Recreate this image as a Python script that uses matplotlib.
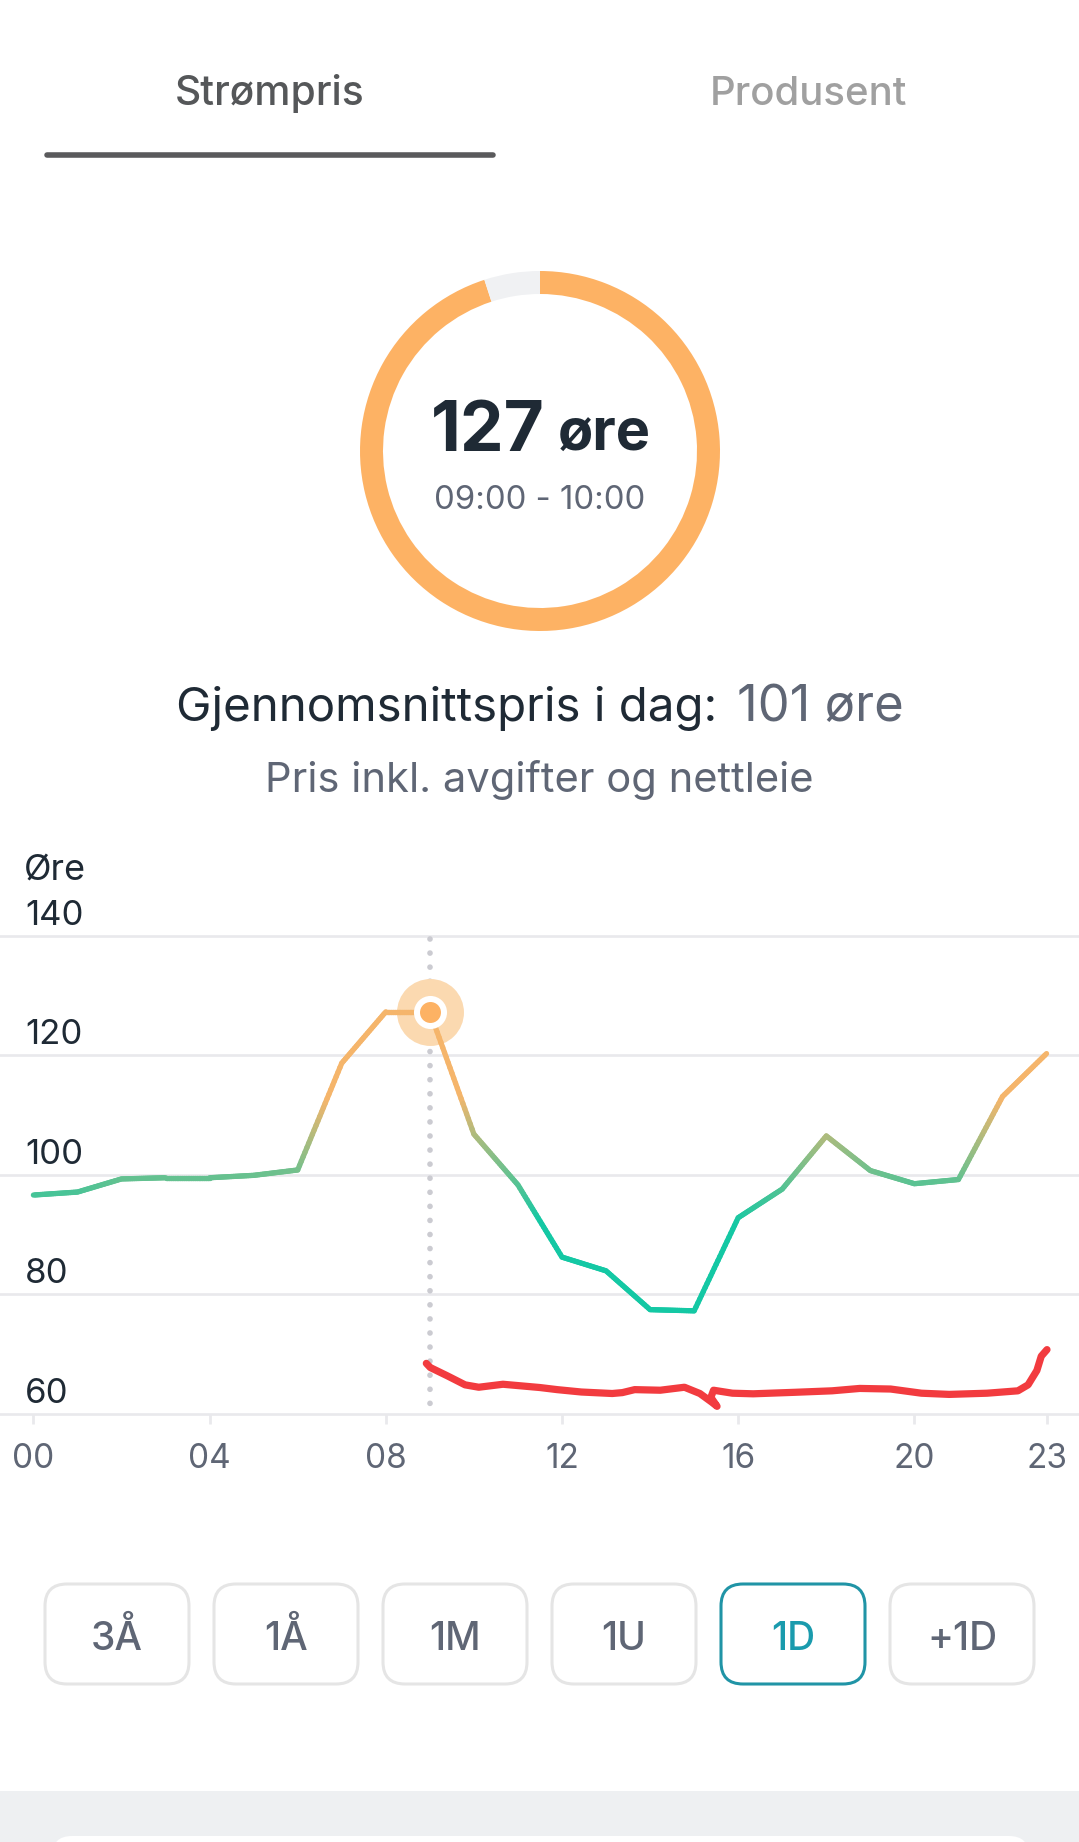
import numpy as np
import matplotlib
matplotlib.use("Agg")
import matplotlib.pyplot as plt
from matplotlib.collections import LineCollection
from matplotlib.colors import LinearSegmentedColormap, Normalize
from matplotlib.patches import FancyBboxPatch, Rectangle
from matplotlib.transforms import ScaledTranslation

plt.rcParams['font.family'] = ['Inter', 'DejaVu Sans']

# ---- data ----
hours = list(range(24))
prices = [96.6, 97.1, 99.3, 99.5, 99.5, 99.9, 100.8, 118.7, 127.3, 127.3, 106.8, 98.3,
          86.2, 83.9, 77.4, 77.2, 92.8, 97.6, 106.5, 100.7, 98.5, 99.2, 113.1, 120.3]
drawn_x = [8.92, 9.01, 9.40, 9.80, 10.11, 10.66, 11.50, 11.89, 12.44, 13.14, 13.37, 13.65,
           14.23, 14.78, 15.13, 15.40, 15.52, 15.38, 15.44, 15.87, 16.34, 17.28, 18.13,
           18.76, 19.46, 20.16, 20.79, 21.65, 22.35, 22.58, 22.78, 22.88, 23.01]
drawn_y = [68.4, 67.7, 66.3, 64.8, 64.4, 64.9, 64.35, 64.0, 63.6, 63.35, 63.5, 64.0,
           63.9, 64.4, 63.35, 61.9, 61.2, 62.7, 63.9, 63.4, 63.3, 63.55, 63.8,
           64.2, 64.1, 63.4, 63.2, 63.4, 63.8, 64.8, 67.2, 69.6, 70.7]
y_ticks = [60, 80, 100, 120, 140]
x_ticks = [0, 4, 8, 12, 16, 20, 23]
x_labels = ['00', '04', '08', '12', '16', '20', '23']
selected_hour = 9
selected_price = 127.3
gauge_values = [95, 5]
range_buttons = ['3Å', '1Å', '1M', '1U', '1D', '+1D']
active_button = '1D'

INK = '#1F2A35'
GREY = '#5F6675'
ORANGE = '#FDB264'
GRID = '#E9E9EC'

W, H = 1079, 1842
fig = plt.figure(figsize=(W / 100, H / 100), dpi=100, facecolor='white')


def px_axes(x0, y0, x1, y1):
    return fig.add_axes([x0 / W, 1 - y1 / H, (x1 - x0) / W, (y1 - y0) / H])


# ---- page layer, in pixels ----
ui = fig.add_axes([0, 0, 1, 1])
ui.set_xlim(0, W)
ui.set_ylim(H, 0)
ui.axis('off')


def label(x, y, s, size, color, ha='center', weight='normal'):
    return ui.text(x, y, s, fontsize=size, color=color, ha=ha, va='baseline', fontweight=weight)


label(269.5, 105, 'Strømpris', 29.3, '#555759', weight='medium')
label(808.5, 105, 'Produsent', 28.9, '#A0A0A0', weight='medium')
ui.plot([47, 493], [155, 155], color='#5A5A5C', lw=4.0, solid_capstyle='round')

label(431, 451, '127', 50, INK, ha='left', weight='bold')
label(558, 451, 'øre', 41.5, INK, ha='left', weight='bold')
label(540, 509, '09:00 - 10:00', 23.7, GREY)

label(176, 721, 'Gjennomsnittspris i dag:', 34.2, INK, ha='left')
label(737, 721, '101 øre', 36.5, GREY, ha='left')
label(539, 792, 'Pris inkl. avgifter og nettleie', 30, GREY)
label(24, 880, 'Øre', 26, INK, ha='left')

bw, bh, bstep = 144, 100, 169
for i, name in enumerate(range_buttons):
    x0 = 45 + i * bstep
    on = name == active_button
    ui.add_patch(FancyBboxPatch((x0 + 22, 1584 + 22), bw - 44, bh - 44,
                                boxstyle='round,pad=22,rounding_size=22',
                                fc='white', ec='#2094A6' if on else '#E5E5E5', lw=2.2))
    label(x0 + bw / 2, 1650, name, 28, '#1A9BAD' if on else GREY, weight='medium')

ui.add_patch(Rectangle((0, 1791), W, H - 1791, fc='#EEF0F2', ec='none'))
ui.add_patch(FancyBboxPatch((52 + 20, 1836 + 20), 977 - 40, 60,
                            boxstyle='round,pad=20,rounding_size=20', fc='white', ec='none'))

# ---- gauge ----
gauge = px_axes(360, 271, 720, 631)
gauge.pie(gauge_values, colors=[ORANGE, '#F0F1F3'], startangle=90, counterclock=False,
          radius=1.0, wedgeprops={'width': 23 / 180, 'linewidth': 0})
gauge.set_xlim(-1, 1)
gauge.set_ylim(-1, 1)
gauge.set_aspect('equal')
gauge.patch.set_alpha(0)

# ---- price chart ----
px_per_hour = 44.05
ax = px_axes(0, 936, W, 1413.5)
ax.patch.set_alpha(0)
ax.set_xlim(-33.4 / px_per_hour, (W - 33.4) / px_per_hour)
ax.set_ylim(60, 140)
for s in ax.spines.values():
    s.set_visible(False)
ax.set_yticks(y_ticks)
ax.set_yticklabels([str(v) for v in y_ticks], fontsize=25, color=INK)
ax.tick_params(axis='y', length=0, pad=0)
ax.set_xticks(x_ticks)
ax.set_xticklabels(x_labels, fontsize=24, color=GREY)
ax.tick_params(axis='x', length=7.2, width=2, color=GRID, pad=14)
ytrans = ScaledTranslation(0.25, 0.11, fig.dpi_scale_trans)
for t in ax.get_yticklabels():
    t.set_ha('left')
    t.set_va('baseline')
    t.set_transform(t.get_transform() + ytrans)
ax.grid(axis='y', color=GRID, lw=1.9, zorder=0)
ax.set_axisbelow(True)
for gl in ax.get_ygridlines():
    gl.set_clip_on(False)

# selected-hour guide, halo below the line
ax.plot([selected_hour, selected_hour], [139.5, 61.0], color='#CBCBD1', lw=4.1,
        linestyle=(0, (0.001, 2.47)), dash_capstyle='round', zorder=2, clip_on=False)
ax.plot([selected_hour], [selected_price], 'o', ms=48.2, mfc='#FBD9B0', mew=0, zorder=3)

# price line with value-driven colour ramp
cmap = LinearSegmentedColormap.from_list('price', ['#14C8A4', '#F5B56B'])
norm = Normalize(92, 113)
sx, sy = [], []
for i in range(len(hours) - 1):
    sx.extend(np.linspace(hours[i], hours[i + 1], 24, endpoint=False))
    sy.extend(np.linspace(prices[i], prices[i + 1], 24, endpoint=False))
sx.append(hours[-1])
sy.append(prices[-1])
pts = np.column_stack([sx, sy])
segs = np.stack([pts[:-1], pts[1:]], axis=1)
lc = LineCollection(segs, cmap=cmap, norm=norm, linewidths=3.8, capstyle='round',
                    joinstyle='round', zorder=4)
lc.set_array((pts[:-1, 1] + pts[1:, 1]) / 2)
lc.set_clip_on(False)
ax.add_collection(lc)

ax.plot([selected_hour], [selected_price], 'o', ms=23.8, mfc='white', mew=0, zorder=5)
ax.plot([selected_hour], [selected_price], 'o', ms=15.1, mfc=ORANGE, mew=0, zorder=6)

# hand-drawn red stroke
ax.plot(drawn_x, drawn_y, color='#F23B3F', lw=5.2, solid_capstyle='round',
        solid_joinstyle='round', zorder=7, clip_on=False)

fig.savefig('out.png', dpi=100, facecolor='white')
